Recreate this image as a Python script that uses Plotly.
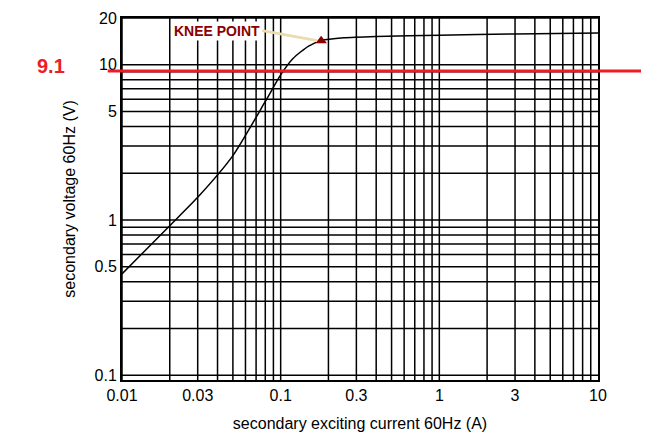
import numpy as np
import plotly.graph_objects as go

current = [0.01, 0.02, 0.03, 0.05, 0.08, 0.1, 0.12, 0.15, 0.18, 0.25, 0.4, 1, 3, 10]
voltage = [0.45, 0.92, 1.4, 2.6, 5.8, 8.6, 11.0, 13.2, 14.3, 14.9, 15.2, 15.5, 15.8, 16.0]
knee_x, knee_y = [0.18], [14.3]
ref_v = 9.1

x_ticks = [0.01, 0.03, 0.1, 0.3, 1, 3, 10]
x_labels = ["0.01", "0.03", "0.1", "0.3", "1", "3", "10"]
y_ticks = [0.1, 0.5, 1, 5, 10, 20]
y_labels = ["0.1", "0.5", "1", "5", "10", "20"]

fig = go.Figure()
fig.add_trace(go.Scatter(x=current, y=voltage, mode="lines", line=dict(color="black", width=1.5),
                         line_shape="spline", line_smoothing=0.6, showlegend=False))
fig.add_trace(go.Scatter(x=knee_x, y=knee_y, mode="markers",
                         marker=dict(symbol="triangle-up", color="#8b0000", size=10), showlegend=False))

# grid lines at every 1-9 multiple
for d in [0.01, 0.1, 1]:
    for m in range(1, 10):
        fig.add_vline(x=d * m, line=dict(color="black", width=1.5))
for d in [0.1, 1, 10]:
    for m in range(1, 10):
        v = d * m
        if v <= 20:
            fig.add_hline(y=v, line=dict(color="black", width=1.5))

fig.add_shape(type="line", xref="paper", yref="y", x0=-0.03, x1=1.2, y0=ref_v, y1=ref_v,
              line=dict(color="#ee1c25", width=3))
fig.add_annotation(xref="paper", yref="y", x=-0.115, y=np.log10(ref_v) + 0.03, text="<b>9.1</b>",
                   showarrow=False, xanchor="right", font=dict(color="#ee1c25", size=20))
fig.add_annotation(x=np.log10(0.17), y=np.log10(14.3), ax=-55, ay=-10, text="<b>KNEE POINT</b>",
                   showarrow=True, arrowhead=0, arrowcolor="#eadcb0", arrowwidth=3,
                   font=dict(color="#8b0000", size=14), bgcolor="white", xanchor="right")

fig.update_xaxes(type="log", range=[np.log10(0.01), 1], tickvals=x_ticks, ticktext=x_labels,
                 showgrid=False, showline=True, linecolor="black", linewidth=2, mirror=True,
                 automargin=False,
                 title=dict(text="secondary exciting current 60Hz (A)", font=dict(size=16)),
                 tickfont=dict(size=16, color="black"))
fig.update_yaxes(type="log", range=[-1.03, np.log10(20)], tickvals=y_ticks, ticktext=y_labels,
                 showgrid=False, showline=True, linecolor="black", linewidth=2, mirror=True,
                 automargin=False,
                 title=dict(text="secondary voltage 60Hz (V)", font=dict(size=16)),
                 tickfont=dict(size=16, color="black"))
fig.update_layout(width=649, height=444, plot_bgcolor="white", paper_bgcolor="white",
                  margin=dict(l=114, r=59, t=10, b=72, autoexpand=False),
                  font=dict(family="Liberation Sans, Arial", color="black"))
fig.write_html("out.html")
